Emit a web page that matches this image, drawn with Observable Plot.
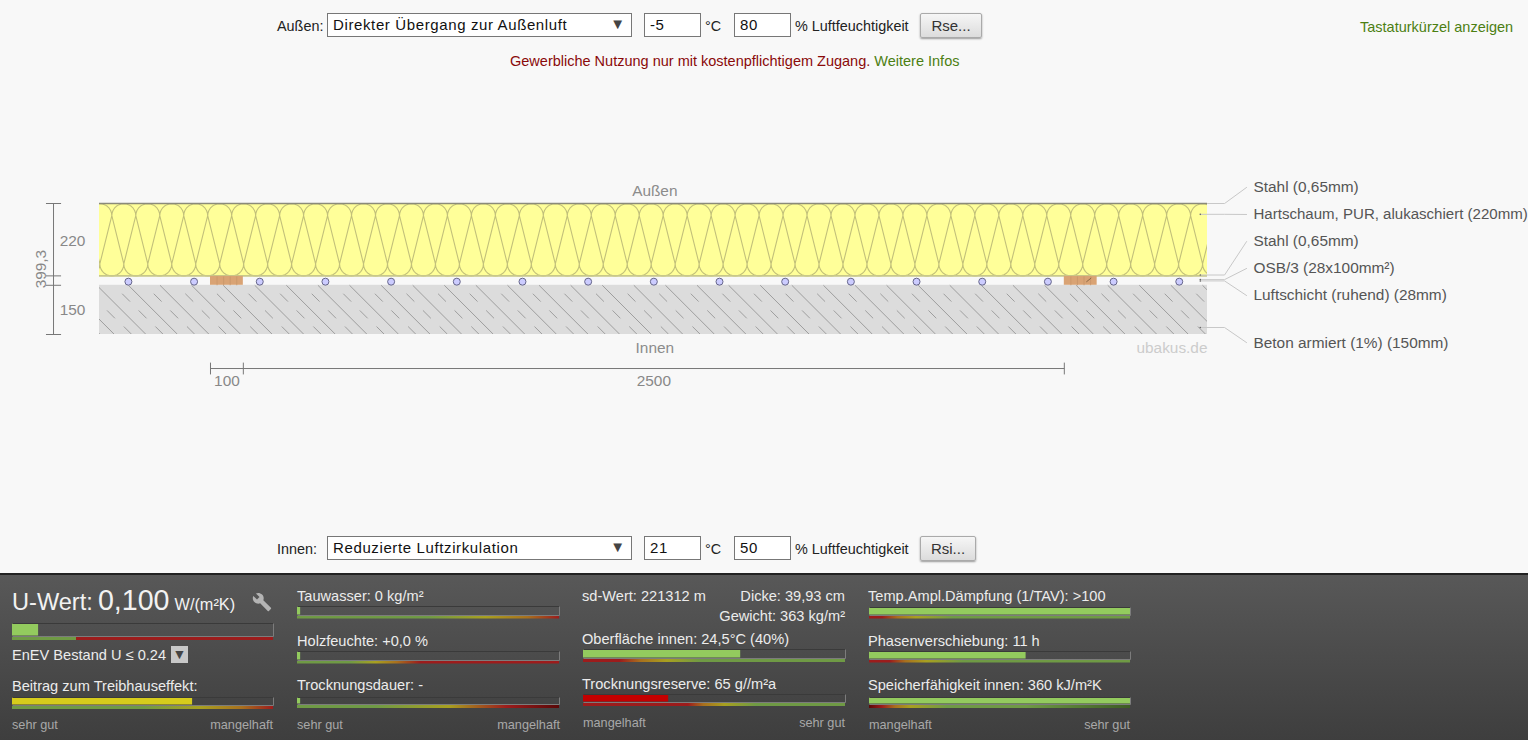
<!DOCTYPE html>
<html lang="de"><head><meta charset="utf-8">
<script src="https://cdn.jsdelivr.net/npm/d3@7"></script>
<script src="https://cdn.jsdelivr.net/npm/@observablehq/plot@0.6"></script>
<style>
html,body{margin:0;padding:0;width:1528px;height:740px;overflow:hidden;background:#f8f8f8;font-family:"Liberation Sans",Arial,sans-serif}
.a{position:absolute;white-space:nowrap}
.lbl{font-size:14.4px;color:#222;line-height:16px}
.sel{border:1px solid #777;background:#fff;box-sizing:border-box;width:305px;height:24px;left:327px;font-size:15px;line-height:22px;padding-left:5px;letter-spacing:.62px;color:#111}
.sel i{position:absolute;right:6px;top:-1px;font-style:normal;font-size:15px;color:#444;letter-spacing:0}
.inp{border:1px solid #777;background:#fff;box-sizing:border-box;width:57px;height:24px;font-size:15px;line-height:22px;padding-left:5px;color:#111;letter-spacing:.6px}
.btn{border:1px solid #aaa;border-radius:2px;box-sizing:border-box;height:25px;background:linear-gradient(#f6f6f6,#dcdcdc);box-shadow:0 1px 2px #999;text-align:center;font-size:15px;line-height:23px;color:#333}
#panel{position:absolute;left:0;top:573px;width:1528px;height:167px;box-sizing:border-box;border-top:2px solid #222;background:linear-gradient(#585858,#3e3e3e)}
.p{color:#ececec;font-size:14.6px;line-height:16px}
.s{color:#a8a8a8;font-size:12.7px;line-height:14px}
svg.plot-main{position:absolute;left:0;top:0}
.g{position:absolute}
</style></head><body>
<div id="main"></div>
<div class="a lbl" style="left:277px;top:18px">Außen:</div>
<div class="a sel" style="top:13px">Direkter Übergang zur Außenluft<i>▼</i></div>
<div class="a inp" style="left:644px;top:13px">-5</div>
<div class="a lbl" style="left:705px;top:18px">°C</div>
<div class="a inp" style="left:734px;top:13px">80</div>
<div class="a lbl" style="left:795px;top:18px">% Luftfeuchtigkeit</div>
<div class="a btn" style="left:920px;top:13px;width:62px">Rse...</div>
<div class="a" style="left:1360px;top:19px;font-size:14.5px;line-height:16px;color:#4c7f12">Tastaturkürzel anzeigen</div>
<div class="a" style="left:510px;top:53px;font-size:14.5px;line-height:16px;color:#8a0a0a">Gewerbliche Nutzung nur mit kostenpflichtigem Zugang. <span style="color:#4c7f12">Weitere Infos</span></div>
<div class="a lbl" style="left:277px;top:541px">Innen:</div>
<div class="a sel" style="top:536px">Reduzierte Luftzirkulation<i>▼</i></div>
<div class="a inp" style="left:644px;top:536px">21</div>
<div class="a lbl" style="left:705px;top:541px">°C</div>
<div class="a inp" style="left:734px;top:536px">50</div>
<div class="a lbl" style="left:795px;top:541px">% Luftfeuchtigkeit</div>
<div class="a btn" style="left:920px;top:536px;width:56px">Rsi...</div>
<div id="panel"></div>
<script>
// ---- Layer build-up (mm), outside to inside
const layerNames = ["Stahl top","Hartschaum","Stahl bottom","Luftschicht","Beton"];
const layerThickness = [0.65,220,0.65,28,150];
const layerFills = ["#777777","#ffff99","#a8a878","#f8f8f8","#dcdcdc"];
const sectionWidth = 3374;
const timberStarts = [338,2938];
const timberWidth = 100;
const tubeCenters = [88,288,488,688,888,1088,1288,1488,1688,1888,2088,2288,2488,2688,2888,3088,3288];
const dimLabels = ["220","150","399,3","100","2500"];
const materialLabels = ["Stahl (0,65mm)","Hartschaum, PUR, alukaschiert (220mm)","Stahl (0,65mm)","OSB/3 (28x100mm²)","Luftschicht (ruhend) (28mm)","Beton armiert (1%) (150mm)"];
const materialLabelY = [-49,33.5,116,198,280.5,424];
const materialLabelSize = [15.4,15.05,15.4,15.4,15.4,15.4];
const materialAnchorY = [0,33,218,232,236,378];
const materialAnchorX = [3374,3352,3352,3352,3352,3352];

const total = d3.sum(layerThickness);
const edges = [0,...d3.cumsum(layerThickness)];
const layers = layerNames.map((n,i)=>({n,y1:edges[i],y2:edges[i+1],fill:layerFills[i],x1:0,x2:sectionWidth}));
const pur = layers[1], air = layers[3], con = layers[4];

// insulation serpentine: one line, top and bottom arcs alternate, each straight part leans back
const lobe = 36.5, first = 74, arcN = 14;
const loops = [];
for(let c=first-2*73; c<sectionWidth+73; c+=73){
  for(let i=0;i<=arcN;i++){const a=Math.PI*(1-i/arcN);loops.push({x:c+lobe*Math.cos(a),y:pur.y1+lobe-lobe*Math.sin(a)});}
  for(let i=0;i<=arcN;i++){const a=Math.PI*(1-i/arcN);loops.push({x:c+lobe+lobe*Math.cos(a),y:pur.y2-lobe+lobe*Math.sin(a)});}
}
// concrete hatch
const H = con.y2-con.y1, step = 96.2;
const hatch = d3.range(88-3*step,sectionWidth,step).map(x=>({x1:x,x2:x+H,y1:con.y1,y2:con.y2}));
const dashLen = 24;
const dashes = [[69,275],[23,326],[74,375]].flatMap(([x0,y0])=>d3.range(x0-step,sectionWidth,step).map(x=>({x1:x,x2:x+dashLen,y1:y0,y2:y0+dashLen})));
// timber
const timbers = timberStarts.map(x=>({x1:x,x2:x+timberWidth,y1:air.y1+1,y2:air.y2}));
const grain = timberStarts.flatMap(x=>[20,40,60,80].map(d=>({x:x+d,y1:air.y1+1,y2:air.y2})));
const tubes = tubeCenters.map(x=>({x,y:(air.y1+air.y2)/2+3}));
const osbTick = [{x1:3005,x2:3020,y1:239,y2:227}];
const leaderDots = materialAnchorX.map((x,i)=>({x,y:materialAnchorY[i]})).slice(1);
// dimension lines
const dimX=-140, dimTick=23, dimY=503, dimTickH=18;
const dimLinks = [
 {x1:dimX,x2:dimX,y1:0,y2:total},
 ...[0,edges[2],edges[4],total].map(y=>({x1:dimX-dimTick,x2:dimX+dimTick,y1:y,y2:y})),
 {x1:timberStarts[0],x2:timberStarts[1],y1:dimY,y2:dimY},
 ...[timberStarts[0],timberStarts[0]+timberWidth,timberStarts[1]].map(x=>({x1:x,x2:x,y1:dimY-dimTickH,y2:dimY+dimTickH}))
];
// leaders
const leaders = materialLabels.flatMap((n,i)=>[
 {i,x:materialAnchorX[i],y:materialAnchorY[i]},
 {i,x:3426,y:materialAnchorY[i]},
 {i,x:3493,y:materialLabelY[i]}
]);
const labelsR = materialLabels.map((t,i)=>({t,x:sectionWidth,y:materialLabelY[i],fs:materialLabelSize[i]}));

const main = Plot.plot({
  width:1528,height:740,marginLeft:99,marginRight:321,marginTop:203,marginBottom:406,
  x:{domain:[0,sectionWidth],axis:null},y:{domain:[0,total],reverse:true,axis:null},
  style:{background:"transparent",fontFamily:'"Liberation Sans",Arial,sans-serif',overflow:"hidden"},
  marks:[
    Plot.rect(layers.filter(d=>/Hart|Beton/.test(d.n)),{x1:"x1",x2:"x2",y1:"y1",y2:"y2",fill:"fill"}),
    Plot.line(loops,{x:"x",y:"y",stroke:"#c2c07a",strokeWidth:1.1,clip:true,curve:"linear"}),
    Plot.link(hatch,{x1:"x1",x2:"x2",y1:"y1",y2:"y2",stroke:"#969696",strokeWidth:.9,clip:true}),
    Plot.link(dashes,{x1:"x1",x2:"x2",y1:"y1",y2:"y2",stroke:"#969696",strokeWidth:.9,clip:true}),
    Plot.ruleY([0],{x1:()=>0,x2:()=>sectionWidth,y:()=>0,stroke:"#8a8a7a",strokeWidth:1.4}),
    Plot.ruleY([0],{x1:()=>0,x2:()=>sectionWidth,y:()=>pur.y2,stroke:"#c8c88a",strokeWidth:1.6}),
    Plot.rect(timbers,{x1:"x1",x2:"x2",y1:"y1",y2:"y2",fill:"#d9a374"}),
    Plot.link(grain,{x1:"x",x2:"x",y1:"y1",y2:"y2",stroke:"#c8966a",strokeWidth:.8}),
    Plot.link(osbTick,{x1:"x1",x2:"x2",y1:"y1",y2:"y2",stroke:"#7a5a3c",strokeWidth:.8}),
    Plot.dot(tubes,{x:"x",y:"y",r:3.5,fill:"#ccccff",stroke:"#66668a",strokeWidth:1}),
    Plot.line(leaders,{x:"x",y:"y",z:"i",stroke:"#c8c8c8",strokeWidth:1,curve:"linear"}),
    Plot.dot(leaderDots,{x:"x",y:"y",r:.8,fill:"#666"}),
    Plot.link(dimLinks,{x1:"x1",x2:"x2",y1:"y1",y2:"y2",stroke:"#777",strokeWidth:1}),
    Plot.text(labelsR,{x:"x",y:"y",text:"t",dx:46,textAnchor:"start",fill:"#555",fontSize:"fs"}),
    Plot.text(["Außen"],{x:()=>1691,y:()=>-39,text:d=>d,fill:"#8c8c8c",fontSize:15.4}),
    Plot.text(["Innen"],{x:()=>1691,y:()=>442,text:d=>d,fill:"#8c8c8c",fontSize:15.4}),
    Plot.text(["ubakus.de"],{x:()=>sectionWidth,y:()=>442,text:d=>d,textAnchor:"end",fill:"#cccccc",fontSize:15.4}),
    Plot.text([dimLabels[0]],{x:()=>-82,y:()=>114,text:d=>d,fill:"#888",fontSize:15.4}),
    Plot.text([dimLabels[1]],{x:()=>-82,y:()=>325,text:d=>d,fill:"#888",fontSize:15.4}),
    Plot.text([dimLabels[2]],{x:()=>-178,y:()=>200,text:d=>d,rotate:-90,fill:"#888",fontSize:15.4}),
    Plot.text([dimLabels[3]],{x:()=>388,y:()=>540,text:d=>d,fill:"#888",fontSize:15.4}),
    Plot.text([dimLabels[4]],{x:()=>1688,y:()=>540,text:d=>d,fill:"#888",fontSize:15.4})
  ]
});
main.classList.add("plot-main");
document.getElementById("main").append(main);

// ---- Gauges
const gaugeNames = ["uwert","treibhaus","tauwasser","holzfeuchte","trocknungsdauer","oberflaeche","reserve","tav","phase","speicher"];
const gaugeValues = [0.10,0.69,0.012,0.012,0.012,0.60,0.325,1,0.60,1];
const gaugeColors = ["#93cb5e","#d6cc1c","#93cb5e","#93cb5e","#93cb5e","#93cb5e","#c40000","#93cb5e","#93cb5e","#93cb5e"];
const G="#6f9a45",Y="#a8a020",O="#a8701e",R="#9c1c1c",K="#5a0808",D="#3d5c24";
const gaugeStops = [
 [[0,G],[.247,G],[.247,R],[1,R]],
 [[0,G],[.5,G],[.72,Y],[.88,O],[1,R]],
 [[0,G],[.5,G],[.72,Y],[.88,O],[1,R]],
 [[0,G],[.2,G],[.3,Y],[.38,O],[.47,R],[1,R]],
 [[0,G],[.3,G],[.58,Y],[.8,R],[1,K]],
 [[0,R],[.14,R],[.22,O],[.32,Y],[.45,G],[1,G]],
 [[0,R],[.4,R],[.46,O],[.54,Y],[.66,G],[1,G]],
 [[0,R],[.05,R],[.11,O],[.18,Y],[.32,G],[1,G]],
 [[0,R],[.08,R],[.14,O],[.22,Y],[.36,G],[1,G]],
 [[0,K],[.05,R],[.1,O],[.16,Y],[.3,G],[.6,G],[1,D]]
];
const gaugeBoxes = [[12,623,261,13,3],[12,697,261,8,3],[297,606,262,9,2.5],[297,651,262,9,2.5],[297,697,262,7,3],[583,649,262,9,3],[583,694,262,8,3],[869,607,261,8,2.5],[869,651,261,8,2.5],[869,697,261,7,3]];
const panel = document.getElementById("panel");
gaugeNames.forEach((name,i)=>{
  const [left,top,w,tH,sH]=gaugeBoxes[i], h=tH+1+sH+1;
  const stops=gaugeStops[i], id="grad-"+name;
  const defs=()=>{const d=d3.create("svg:defs");const lg=d.append("linearGradient").attr("id",id);
    stops.forEach(([o,c])=>lg.append("stop").attr("offset",o).attr("stop-color",c));return d.node();};
  const row=[{v:gaugeValues[i],y1:.5,y2:tH-.5}];
  const plot=Plot.plot({width:w,height:h,margin:0,
    x:{domain:[0,1],range:[0,w],axis:null},y:{domain:[0,h],range:[0,h],axis:null},
    style:{background:"transparent",overflow:"visible"},
    marks:[
      defs,
      Plot.rect(row,{x1:()=>0,x2:d=>d.v,y1:"y1",y2:"y2",fill:gaugeColors[i]}),
      Plot.link([{}],{x1:()=>0,x2:()=>1,y1:()=>0,y2:()=>0,stroke:"#3a3a3a",strokeWidth:1}),
      Plot.link([{}],{x1:()=>0,x2:()=>1,y1:()=>tH,y2:()=>tH,stroke:"#7c7c7c",strokeWidth:1}),
      Plot.link([{}],{x1:()=>1,x2:()=>1,y1:()=>0,y2:()=>tH,stroke:"#7c7c7c",strokeWidth:1}),
      Plot.rect([{}],{x1:()=>0,x2:()=>1,y1:()=>tH+1,y2:()=>tH+1+sH,fill:`url(#${id})`})
    ]});
  plot.classList.add("g");
  plot.style.left=left+"px";plot.style.top=(top-575)+"px";
  panel.append(plot);
});
// ---- Panel texts
const panelTexts = [
 ["Tauwasser: 0 kg/m²",297,588],["Holzfeuchte: +0,0 %",297,633],["Trocknungsdauer: -",297,677],
 ["Beitrag zum Treibhauseffekt:",12,678],["EnEV Bestand U ≤ 0.24",12,647],
 ["sd-Wert: 221312 m",582,588],["Oberfläche innen: 24,5°C (40%)",582,631],["Trocknungsreserve: 65 g//m²a",582,676],
 ["Temp.Ampl.Dämpfung (1/TAV): >100",868,588],["Phasenverschiebung: 11 h",868,633],["Speicherfähigkeit innen: 360 kJ/m²K",868,677]
];
const panelRight = [["Dicke: 39,93 cm",845,588],["Gewicht: 363 kg/m²",845,608]];
const scaleGood = [["sehr gut",12,718],["sehr gut",297,718]];
const scaleBad = [["mangelhaft",273,718],["mangelhaft",560,718]];
const scaleBadL = [["mangelhaft",583,716],["mangelhaft",869,718]];
const scaleGoodR = [["sehr gut",845,716],["sehr gut",1130,718]];
function add(cls,t,x,y,right){const e=document.createElement("div");e.className="a "+cls;e.textContent=t;e.style.top=(y-575)+"px";
 if(right)e.style.right=(1528-x)+"px";else e.style.left=x+"px";panel.append(e);return e;}
panelTexts.forEach(([t,x,y])=>add("p",t,x,y));
panelRight.forEach(([t,x,y])=>add("p",t,x,y,true));
scaleGood.concat(scaleBadL).forEach(([t,x,y])=>add("s",t,x,y));
scaleBad.concat(scaleGoodR).forEach(([t,x,y])=>add("s",t,x,y,true));
const u=add("p","",12,583);
u.innerHTML='<span style="font-size:23.6px">U-Wert:</span> <span style="font-size:28.6px;margin-left:1px">0,100</span> <span style="font-size:16.3px;margin-left:1px">W/(m²K)</span>';
u.style.lineHeight="34px";u.style.color="#f2f2f2";
// small dropdown and wrench
const dd=add("","▼",171,646);dd.style.cssText+=";width:17px;height:17px;background:#c8c8c8;color:#444;font-size:14px;line-height:17px;text-align:center";
const wr=document.createElementNS("http://www.w3.org/2000/svg","svg");
wr.setAttribute("width","20");wr.setAttribute("height","20");wr.setAttribute("viewBox","0 0 24 24");wr.setAttribute("class","g");
wr.style.left="252px";wr.style.top="17px";
wr.innerHTML='<path fill="#b4b4b4" d="M22.7 19l-9.1-9.1c.9-2.3.4-5-1.5-6.9-2-2-5-2.4-7.4-1.3L9 6 6 9 1.6 4.7C.4 7.1.9 10.1 2.9 12.1c1.9 1.9 4.6 2.4 6.9 1.5l9.1 9.1c.4.4 1 .4 1.4 0l2.3-2.3c.5-.4.5-1.1.1-1.4z"/>';
panel.append(wr);
</script>
</body></html>
